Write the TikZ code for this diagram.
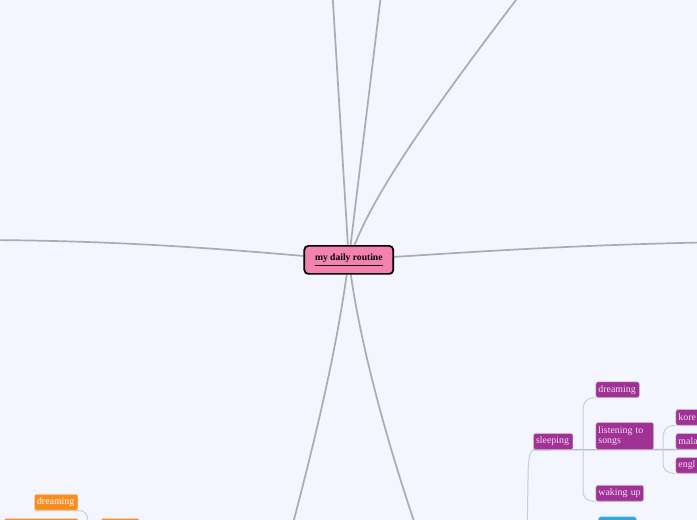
\documentclass[tikz,border=0pt]{standalone}
\usepackage{fontspec}
\setmainfont{Liberation Serif}
\pgfdeclarelayer{bg}
\pgfsetlayers{bg,main}
\definecolor{bgc}{RGB}{243,246,255}
\definecolor{pinkc}{RGB}{243,130,176}
\definecolor{purc}{RGB}{160,50,150}
\definecolor{purtxt}{RGB}{242,220,240}
\definecolor{purbd}{RGB}{205,178,212}
\definecolor{orc}{RGB}{247,141,33}
\definecolor{orbd}{RGB}{250,205,160}
\definecolor{bluec}{RGB}{43,166,222}
\definecolor{mainln}{RGB}{172,172,172}
\definecolor{subln}{RGB}{202,206,216}
\definecolor{hln}{RGB}{186,188,196}
\newdimen\pxu \pxu=0.75pt
\tikzset{
  mainbranch/.style={draw=mainln, line width=1.7\pxu},
  subbranch/.style={draw=subln, line width=1\pxu},
  hbranch/.style={draw=hln, line width=1.4\pxu},
  leaf/.style={anchor=north west, rounded corners=2\pxu, inner xsep=2.5\pxu, inner ysep=0pt,
    minimum height=16\pxu, text width=#1, align=left, font=\fontsize{7.4}{7.9}\selectfont},
  pleaf/.style={leaf=#1, fill=purc, draw=purbd, line width=0.4pt, text=purtxt},
  oleaf/.style={leaf=#1, fill=orc, draw=orbd, line width=0.4pt, text=white},
  bleaf/.style={leaf=#1, fill=bluec, draw=bluec!60!white, line width=0.4pt, text=white},
  root/.style={fill=pinkc, draw=black, line width=1.7\pxu, rounded corners=4\pxu,
    minimum width=89\pxu, minimum height=28\pxu, inner sep=0pt,
    font=\fontsize{7.2}{8}\selectfont\bfseries}
}
\begin{document}
\begin{tikzpicture}[x=0.75pt,y=-0.75pt]
\useasboundingbox (0,0) rectangle (697,520);
\clip (0,0) rectangle (697,520);

% nodes
\node[root] (c) at (348.8,259.9) {\underline{my daily routine}};
\node[pleaf=34.4\pxu] (sl) at (533.3,433.3) {sleeping};
\node[pleaf=38.3\pxu, minimum height=15.6\pxu] (dr) at (595.7,381.7) {dreaming};
\node[pleaf=52.6\pxu, minimum height=27\pxu] (ls) at (595.7,422.3) {listening to\\songs};
\node[pleaf=42.6\pxu] (wk) at (595.7,485) {waking~up};
\node[pleaf=40\pxu, minimum height=15.7\pxu] (ko) at (675.7,409.3) {kore};
\node[pleaf=40\pxu, minimum height=15.7\pxu] (ma) at (675.7,433.3) {mala};
\node[pleaf=40\pxu, minimum height=15.7\pxu] (en) at (675.7,457.3) {engl};
\node[bleaf=32.7\pxu, minimum height=20\pxu] (bl) at (598.3,516.7) {};
\node[oleaf=38.4\pxu] (od) at (34.3,494) {dreaming};
\node[oleaf=69\pxu, minimum height=20\pxu] (o2) at (4,518.3) {};
\node[oleaf=33\pxu, minimum height=20\pxu] (o3) at (101,518.3) {};

% free ends
\coordinate (e1) at (331,-30);
\coordinate (e2) at (384,-30);
\coordinate (e3) at (535,-25);
\coordinate (e4) at (-30,240);
\coordinate (e5) at (730,242);
\coordinate (e6) at (286,550);
\coordinate (e7) at (424,550);
\coordinate (sp) at (527,545);
\coordinate (hr) at (705,449.5);
\coordinate (oj) at (88,545);

\begin{pgfonlayer}{bg}
\clip (0,0) rectangle (697,520);
\fill[bgc] (0,0) rectangle (697,520);
% main branches
\draw[mainbranch] (c) -- (e1);
\draw[mainbranch] (c) -- (e2);
\draw[mainbranch] (c) .. controls (380,180) and (455,80) .. (e3);
\draw[mainbranch] (c) .. controls (200,247) and (100,240) .. (e4);
\draw[mainbranch] (c) .. controls (500,250) and (600,244) .. (e5);
\draw[mainbranch] (c) .. controls (336,350) and (318,430) .. (e6);
\draw[mainbranch] (c) .. controls (360,340) and (385,440) .. (e7);
% sleeping sub-branches
\draw[subbranch] (sl.south west) .. controls (529,452) and (528,462) .. (528,480) -- (sp);
\draw[hbranch] (sl.south west) -- (hr);
\draw[subbranch] (dr.south west) .. controls (586,397.5) and (583,402) .. (583,412)
  -- (583,490) .. controls (583,498) and (586,501) .. (wk.south west);
\draw[subbranch] (ko.south west) .. controls (666,425) and (663,430) .. (663,440)
  -- (663,462) .. controls (663,470) and (666,473) .. (en.south west);
% orange
\draw[subbranch] (od.south west) -- (od.south east) .. controls (84,510) and (88,514) .. (88,521) -- (oj);
\end{pgfonlayer}
\end{tikzpicture}
\end{document}
